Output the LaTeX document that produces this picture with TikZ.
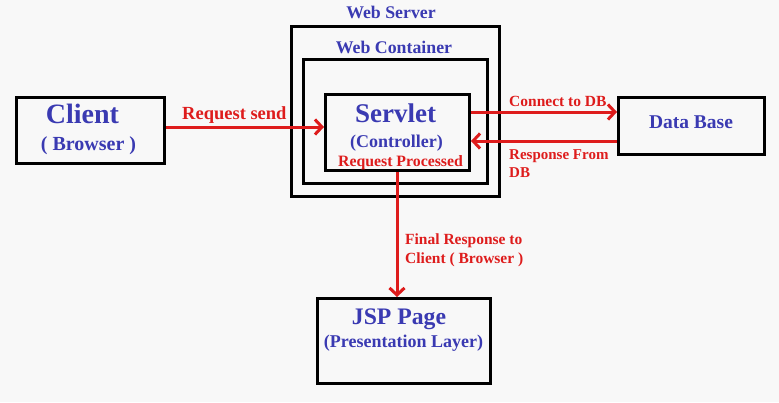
\documentclass[tikz,border=0pt]{standalone}
\usepackage{fontspec}
\setmainfont{Liberation Serif}
\usetikzlibrary{arrows.meta}
\definecolor{bg}{RGB}{248,248,248}
\definecolor{tblue}{RGB}{58,58,178}
\definecolor{tred}{RGB}{222,28,28}
\tikzset{
  box/.style={draw=black, line width=3pt, inner sep=0pt, rectangle},
  arr/.style={draw=tred, line width=3pt, -{Straight Barb[length=7pt,width=15pt]}},
  bl/.style={text=tblue, font=\bfseries, inner sep=0pt},
  rd/.style={text=tred, font=\bfseries, inner sep=0pt},
}
\newcommand{\fs}[1]{\fontsize{#1pt}{#1pt}\selectfont}
\begin{document}
\begin{tikzpicture}[x=1pt,y=-1pt]
\fill[bg] (0,0) rectangle (779,402);
\useasboundingbox (0,0) rectangle (779,402);
% boxes
\node[box, minimum width=148pt, minimum height=66pt] (client) at (90.5,130.5) {};
\node[box, minimum width=208pt, minimum height=170pt] (server) at (395.5,111.5) {};
\node[box, minimum width=184pt, minimum height=124pt] (container) at (395.5,121.5) {};
\node[box, minimum width=144pt, minimum height=76pt] (servlet) at (397.5,132.5) {};
\node[box, minimum width=146pt, minimum height=57pt] (db) at (691.5,126) {};
\node[box, minimum width=173pt, minimum height=85pt] (jsp) at (404,341) {};
% texts
\node[bl, anchor=base, font=\bfseries\fs{17.8}] (tserver) at (391,18) {Web Server};
\node[bl, anchor=base, font=\bfseries\fs{17.8}] (tcont) at (394,53) {Web Container};
\node[bl, anchor=base, font=\bfseries\fs{28}] (tclient) at (82.5,123) {Client};
\node[bl, anchor=base, font=\bfseries\fs{20}] (tbrowser) at (88.5,150) {( Browser )};
\node[bl, anchor=base, font=\bfseries\fs{27}] (tservlet) at (395.5,122) {Servlet};
\node[bl, anchor=base, font=\bfseries\fs{18}] (tctrl) at (396.5,147) {(Controller)};
\node[rd, anchor=base, font=\bfseries\fs{15.8}] (tproc) at (400.5,166) {Request Processed};
\node[bl, anchor=base, font=\bfseries\fs{19.5}] (tdb) at (691,128) {Data Base};
\node[bl, anchor=base, font=\bfseries\fs{23.7}] (tjsp) at (399,324) {JSP Page};
\node[bl, anchor=base, font=\bfseries\fs{18}] (tpres) at (403.5,347) {(Presentation Layer)};
\node[rd, anchor=base west, font=\bfseries\fs{18.5}] (treq) at (182,119) {Request send};
\node[rd, anchor=base west, font=\bfseries\fs{15.5}] (tconn) at (509,106) {Connect to DB};
\node[rd, anchor=base west, font=\bfseries\fs{15}] (tresp1) at (509,159) {Response From};
\node[rd, anchor=base west, font=\bfseries\fs{15}] (tresp2) at (509,177) {DB};
\node[rd, anchor=base west, font=\bfseries\fs{15.5}] (tfin1) at (405,244) {Final Response to};
\node[rd, anchor=base west, font=\bfseries\fs{15.5}] (tfin2) at (405,263) {Client ( Browser )};
% arrows
\draw[arr] (client.east |- 0,127) -- (servlet.west |- 0,127);
\draw[arr] (servlet.east |- 0,112) -- (db.west |- 0,112);
\draw[arr] (db.west |- 0,141) -- (servlet.east |- 0,141);
\draw[arr] (servlet.south -| 397,0) -- (jsp.north -| 397,0);
\end{tikzpicture}
\end{document}
